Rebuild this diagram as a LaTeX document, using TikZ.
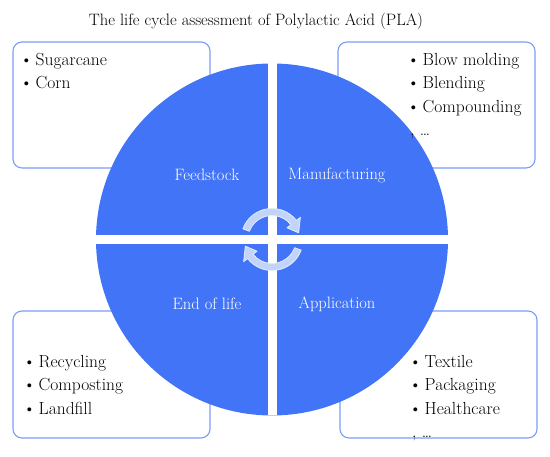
\documentclass[tikz,border=0pt]{standalone}
\usepackage{xcolor}
\definecolor{WheelColor}{HTML}{4174F6}
\definecolor{BoxColor}{HTML}{7A9DF7}
\definecolor{ArrowColor}{HTML}{C3D4FA}
\definecolor{ArrowEdge}{HTML}{E4ECFD}

\tikzset{
  listbox/.style={draw=BoxColor, line width=1.1pt, rounded corners=9pt, fill=white,
    minimum width=197pt, inner sep=0pt},
  listtext/.style={anchor=north west, align=left, inner sep=0pt,
    font={\fontsize{17.5}{23.5}\selectfont}},
  seclabel/.style={text=white, font={\fontsize{16.5}{19}\selectfont}},
  cyclearrow/.style={fill=ArrowColor, draw=ArrowEdge, line width=0.8pt, line join=round},
}

\begin{document}
\begin{tikzpicture}[x=1pt, y=1pt]
  \useasboundingbox (0,0) rectangle (550,457);

  % title
  \node[font={\fontsize{16.5}{19}\selectfont}] (title) at (256,436)
    {The life cycle assessment of Polylactic Acid (PLA)};

  % the four boxes
  \node[listbox, minimum height=126pt] (feedbox) at (111.5,352) {};
  \node[listbox, minimum height=126pt] (manubox) at (436.5,352) {};
  \node[listbox, minimum height=127pt] (endbox) at (111.5,82.5) {};
  \node[listbox, minimum height=127pt] (appbox) at (438.5,82.5) {};

  % wheel and the white cross
  \node[circle, fill=WheelColor, minimum size=352pt, inner sep=0pt, outer sep=0pt] (wheel) at (272,217.5) {};
  \draw[white, line width=9pt] (wheel.north) -- (wheel.south);
  \draw[white, line width=9pt] (wheel.west) -- (wheel.east);

  % quarter labels
  \node[seclabel] (feed) at (207,282) {Feedstock};
  \node[seclabel] (manu) at (337,282) {Manufacturing};
  \node[seclabel] (eol) at (207,153) {End of life};
  \node[seclabel] (app) at (337,153) {Application};

  % cycle arrows
  \fill[cyclearrow, shift={(wheel.center)}]
    (160:31) arc[start angle=160, end angle=38, radius=31] -- (38:36) -- (14:27.5)
    -- (38:19) -- (38:24) arc[start angle=38, end angle=160, radius=24] -- cycle;
  \fill[cyclearrow, shift={(wheel.center)}]
    (-20:31) arc[start angle=-20, end angle=-142, radius=31] -- (-142:36) -- (-166:27.5)
    -- (-142:19) -- (-142:24) arc[start angle=-142, end angle=-20, radius=24] -- cycle;

  % lists
  \node[listtext] (feedlist) at (20,404) {\textbullet\,Sugarcane\\\textbullet\,Corn};
  \node[listtext] (manulist) at (407,404) {\textbullet\,Blow molding\\\textbullet\,Blending\\\textbullet\,Compounding\\\hspace{3pt}, \dots};
  \node[listtext] (endlist) at (23,102) {\textbullet\,Recycling\\\textbullet\,Composting\\\textbullet\,Landfill};
  \node[listtext] (applist) at (409,102) {\textbullet\,Textile\\\textbullet\,Packaging\\\textbullet\,Healthcare\\\hspace{3pt}, \dots};
\end{tikzpicture}
\end{document}
